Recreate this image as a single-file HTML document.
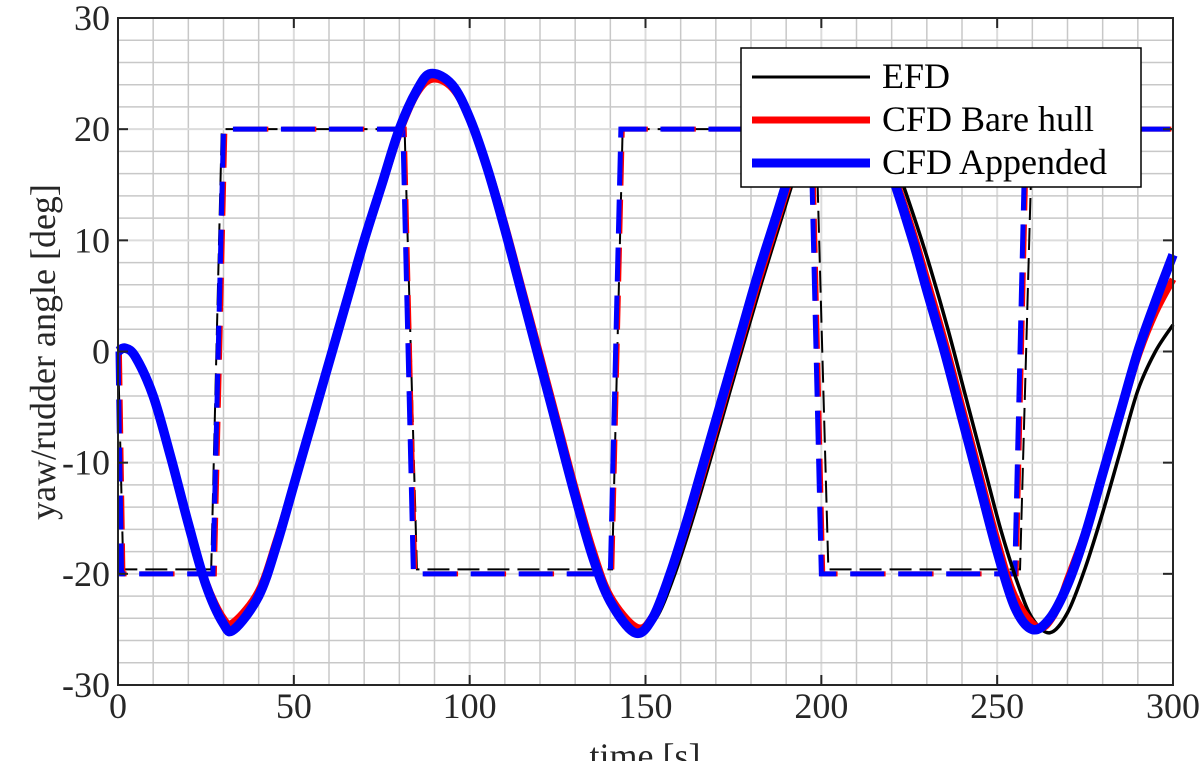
<!DOCTYPE html>
<html><head><meta charset="utf-8"><style>
html,body{margin:0;padding:0;background:#fff;}
svg{display:block;font-family:"Liberation Serif",serif;}
</style></head><body>
<svg id="chart" width="1202" height="761" viewBox="0 0 1202 761">
<rect x="0" y="0" width="1202" height="761" fill="#fff"/>
<g id="grid"></g>
<g id="series"></g>
<g id="axes"></g>
<text x="645" y="768" text-anchor="middle" font-size="36" fill="#262626">time [s]</text>
<text transform="translate(55,352) rotate(-90)" text-anchor="middle" font-size="36" fill="#262626">yaw/rudder angle [deg]</text>
<g>
<rect x="741" y="48" width="400" height="139" fill="#fff" stroke="#000" stroke-width="1.5"/>
<g><line x1="752" y1="77" x2="870" y2="77" stroke="#000" stroke-width="3"/><text x="882" y="88" font-size="36">EFD</text></g>
<g><line x1="752" y1="120" x2="870" y2="120" stroke="#f00" stroke-width="7"/><text x="882" y="131" font-size="36">CFD Bare hull</text></g>
<g><line x1="752" y1="163" x2="870" y2="163" stroke="#00f" stroke-width="9"/><text x="882" y="174" font-size="36">CFD Appended</text></g>
</g>
</svg>
<script>
const xTicks=[0,50,100,150,200,250,300];
const yTicks=[-30,-20,-10,0,10,20,30];
const blueT=[0,2,5,10,15,20,25,30,33,40,45,50,55,60,65,70,75,80,85,89,95,100,105,110,115,120,125,130,135,140,147,152,157,162,167,172,177,182,187,192,196,200,205,210,215,220,226,230,235,240,245,250,255,260,265,270,275,280,285,290,295,300];
const blueV=[0,0.3,-0.5,-4,-9.5,-15.5,-21,-24.5,-25,-22,-17.5,-12,-6.5,-1,4.5,10,15,20,23.5,25,24,21,16.5,11,5,-1,-7,-13,-18.5,-22.5,-25.3,-24,-20,-15,-9.5,-4,1.5,7,12,17,20,23,24.5,23.5,20.5,16,10,5.5,0,-6,-12,-18,-23,-25,-24,-21,-16.5,-11,-5.5,0,4.5,8.7];
const redT=[0,2,5,10,15,20,25,30,33,40,45,50,55,60,65,70,75,80,85,89.5,95,100,105,110,115,120,125,130,135,140,147.5,152,157,162,167,172,177,182,187,192,196,200,205,210,215,220,226,230,235,240,245,250,255,261.5,266,270,275,280,285,290,295,300];
const redV=[0,0.3,-0.5,-4,-9.5,-15.3,-20.7,-24,-24.3,-21.5,-17,-11.8,-6.3,-1,4.3,9.7,14.7,19.6,23.2,24.5,23.7,21,16.8,11.5,5.6,-0.3,-6.3,-12.3,-17.8,-22,-24.8,-23.8,-20.3,-15.5,-10.2,-4.7,0.8,6.2,11.3,16.3,19.5,22.5,24.3,23.5,20.8,16.5,10.8,6.5,1,-5,-11,-17,-22,-24.8,-23.8,-20.5,-16.2,-11,-5.8,-0.5,3.5,6.5];
const efdT=[0,2,5,10,15,20,25,30,33,40,45,50,55,60,65,70,75,80,85,89.5,95,100,105,110,115,120,125,130,135,140,148,153,158,163,168,173,178,183,188,193,197,201,206,211,216,221,227,231,236,241,246,251,256,260,265,270,275,280,285,290,295,300];
const efdV=[0,0.4,-0.4,-4,-9.5,-15.3,-20.7,-24,-24.4,-21.5,-17,-11.8,-6.3,-1,4.3,9.7,14.7,19.6,23.2,24.5,23.8,21.2,17,11.8,6,0,-6,-12,-17.5,-21.8,-25,-24,-20.3,-15.5,-10.2,-4.7,0.8,6.2,11.3,16.3,19.5,22.5,24,23.5,21,17,11.5,7.5,2,-4,-10,-16,-21,-24,-25.3,-23.5,-19.5,-14.5,-9,-3.5,0,2.4];
const rudCfdT=[0,1,27,30,81,84,140,143,197,200,255,258,300];
const rudCfdV=[0,-20,-20,20,20,-20,-20,20,20,-20,-20,20,20];
const rudEfdT=[0,1.5,26.5,29.5,81.5,85,140.5,143.5,198.5,202,256.5,260,300];
const rudEfdV=[0,-19.6,-19.6,20,20,-19.6,-19.6,20,20,-19.6,-19.6,20,20];

const X0=118,X1=1173,Y0=685,Y1=18;
const sx=t=>X0+(t-0)/300*(X1-X0);
const sy=v=>Y0-(v+30)/60*(Y0-Y1);
const NS='http://www.w3.org/2000/svg';
function mk(tag,attrs,parent){const e=document.createElementNS(NS,tag);for(const k in attrs)e.setAttribute(k,attrs[k]);parent.appendChild(e);return e;}
const grid=document.getElementById('grid');
for(let t=0;t<=300;t+=10){
  const major=t%50===0;
  const l=mk('line',{x1:sx(t),x2:sx(t),y1:Y1,y2:Y0,stroke:major?'#dcdcdc':'#c8c8c8','stroke-width':major?2:1.5},grid);
  
  
}
for(let v=-30;v<=30;v+=2){
  const major=v%10===0;
  const l=mk('line',{x1:X0,x2:X1,y1:sy(v),y2:sy(v),stroke:major?'#dcdcdc':'#c8c8c8','stroke-width':major?2:1.5},grid);
  
  
}
function smooth(T,V){
  const p=T.map((t,i)=>[sx(t),sy(V[i])]);
  let d='M'+p[0][0]+','+p[0][1];
  for(let i=0;i<p.length-1;i++){
    const a=p[Math.max(i-1,0)],b=p[i],c=p[i+1],e=p[Math.min(i+2,p.length-1)];
    const c1=[b[0]+(c[0]-a[0])/6,b[1]+(c[1]-a[1])/6];
    const c2=[c[0]-(e[0]-b[0])/6,c[1]-(e[1]-b[1])/6];
    d+=' C'+c1[0]+','+c1[1]+' '+c2[0]+','+c2[1]+' '+c[0]+','+c[1];
  }
  return d;
}
function poly(T,V){return 'M'+T.map((t,i)=>sx(t)+','+sy(V[i])).join(' L');}
const S=document.getElementById('series');
let e;
e=mk('path',{d:poly(rudEfdT,rudEfdV),fill:'none',stroke:'#000','stroke-width':2,'stroke-dasharray':'22 8'},S);


e=mk('path',{d:poly(rudCfdT.map(t=>t+0.4),rudCfdV),fill:'none',stroke:'#f00','stroke-width':5,'stroke-dasharray':'34 14'},S);


e=mk('path',{d:poly(rudCfdT,rudCfdV),fill:'none',stroke:'#00f','stroke-width':5,'stroke-dasharray':'34 14'},S);


e=mk('path',{d:smooth(efdT,efdV),fill:'none',stroke:'#000','stroke-width':3.5},S);


e=mk('path',{d:smooth(redT,redV),fill:'none',stroke:'#f00','stroke-width':7},S);


e=mk('path',{d:smooth(blueT,blueV),fill:'none',stroke:'#00f','stroke-width':9.5,'stroke-linejoin':'round'},S);


const A=document.getElementById('axes');
e=mk('rect',{x:X0,y:Y1,width:X1-X0,height:Y0-Y1,fill:'none',stroke:'#262626','stroke-width':2},A);


xTicks.forEach(t=>{
  mk('line',{x1:sx(t),x2:sx(t),y1:Y0,y2:Y0-10,stroke:'#262626','stroke-width':2},A);
  mk('line',{x1:sx(t),x2:sx(t),y1:Y1,y2:Y1+10,stroke:'#262626','stroke-width':2},A);
  const tx=mk('text',{x:sx(t),y:Y0+33,'text-anchor':'middle','font-size':36,fill:'#262626'},A);
  tx.textContent=t;
  
  
});
yTicks.forEach(v=>{
  mk('line',{x1:X0,x2:X0+10,y1:sy(v),y2:sy(v),stroke:'#262626','stroke-width':2},A);
  mk('line',{x1:X1,x2:X1-10,y1:sy(v),y2:sy(v),stroke:'#262626','stroke-width':2},A);
  const tx=mk('text',{x:X0-8,y:sy(v)+12,'text-anchor':'end','font-size':36,fill:'#262626'},A);
  tx.textContent=v;
  
  
});
</script>
</body></html>
